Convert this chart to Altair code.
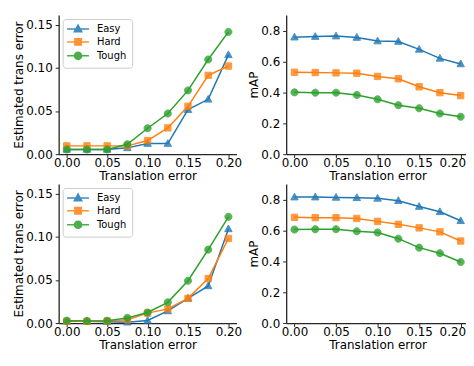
import altair as alt
import pandas as pd

x_vals = [0.0, 0.025, 0.05, 0.075, 0.1, 0.125, 0.15, 0.175, 0.2]
series_names = ["Easy", "Hard", "Tough"]
series_colors = ["#1f77b4", "#ff7f0e", "#2ca02c"]

top_est_easy = [0.0055, 0.0055, 0.0055, 0.0073, 0.0123, 0.0123, 0.0515, 0.0635, 0.115]
top_est_hard = [0.0096, 0.0096, 0.0096, 0.0096, 0.0158, 0.0304, 0.0554, 0.0912, 0.102]
top_est_tough = [0.0054, 0.0054, 0.0054, 0.0115, 0.030, 0.047, 0.0738, 0.1096, 0.1415]

top_map_easy = [0.757, 0.761, 0.764, 0.755, 0.732, 0.729, 0.678, 0.620, 0.584]
top_map_hard = [0.530, 0.528, 0.526, 0.524, 0.503, 0.488, 0.436, 0.398, 0.379]
top_map_tough = [0.400, 0.398, 0.398, 0.383, 0.355, 0.317, 0.297, 0.263, 0.242]

bot_est_easy = [0.002, 0.002, 0.0015, 0.001, 0.003, 0.014, 0.0286, 0.043, 0.109]
bot_est_hard = [0.002, 0.002, 0.0023, 0.0038, 0.0115, 0.0164, 0.0286, 0.0515, 0.098]
bot_est_tough = [0.0027, 0.0023, 0.0027, 0.006, 0.0122, 0.024, 0.049, 0.085, 0.123]

bot_map_easy = [0.815, 0.815, 0.813, 0.811, 0.807, 0.792, 0.754, 0.720, 0.662]
bot_map_hard = [0.684, 0.682, 0.682, 0.677, 0.658, 0.639, 0.616, 0.590, 0.531]
bot_map_tough = [0.605, 0.607, 0.607, 0.594, 0.586, 0.546, 0.488, 0.452, 0.395]

x_ticks = [0.0, 0.05, 0.1, 0.15, 0.2]
est_ticks = [0.0, 0.05, 0.1, 0.15]
map_ticks = [0.0, 0.2, 0.4, 0.6, 0.8]

# marker shapes (unit box) for plot points
marker_paths = [
    "M0,-1.05L1,0.75L-1,0.75Z",
    "M-0.85,-0.85L0.85,-0.85L0.85,0.85L-0.85,0.85Z",
    "M0.95,0A0.95,0.95,0,1,1,-0.95,0A0.95,0.95,0,1,1,0.95,0Z",
]
# legend symbols: line segment + marker
legend_paths = [
    "M-2.75,0L2.75,0M0,-0.98L0.935,0.7L-0.935,0.7Z",
    "M-2.75,0L2.75,0M-0.8,-0.8L0.8,-0.8L0.8,0.8L-0.8,0.8Z",
    "M-2.75,0L2.75,0M0.9,0A0.9,0.9,0,1,1,-0.9,0A0.9,0.9,0,1,1,0.9,0Z",
]

FONT = "DejaVu Sans"


def make_df(lists):
    rows = []
    for name, vals in zip(series_names, lists):
        for xv, yv in zip(x_vals, vals):
            rows.append({"x": xv, "value": yv, "series": name})
    return pd.DataFrame(rows)


def panel(lists, y_domain, y_ticks, y_fmt, y_title, width, with_legend, edge_panel):
    df = make_df(lists)
    x_axis_args = dict(values=x_ticks, format=".2f", title="Translation error")
    if edge_panel:
        # keep the last tick label inside the page
        x_axis_args["labelAlign"] = {"condition": {"test": "datum.value > 0.19", "value": "right"},
                                     "value": "center"}
        x_axis_args["labelOffset"] = {"condition": {"test": "datum.value > 0.19", "value": 5},
                                      "value": 0}
    X = alt.X("x:Q", scale=alt.Scale(domain=[-0.01, 0.21], nice=False, zero=False),
              axis=alt.Axis(**x_axis_args))
    Y = alt.Y("value:Q", scale=alt.Scale(domain=y_domain, nice=False, zero=False),
              axis=alt.Axis(values=y_ticks, format=y_fmt, title=y_title))
    layers = []
    for name, color, path in zip(series_names, series_colors, marker_paths):
        base = alt.Chart(df).transform_filter(alt.datum.series == name)
        layers.append(base.mark_line(color=color, strokeWidth=1.5).encode(x=X, y=Y))
        layers.append(base.mark_point(shape=path, filled=True, size=56, color=color,
                                      stroke=color, strokeWidth=1, opacity=0.8).encode(x=X, y=Y))
    if with_legend:
        leg = dict(orient="none", legendX=4, legendY=4, padding=5,
                   strokeColor="#cccccc", fillColor="rgba(255,255,255,0.8)", cornerRadius=3,
                   labelFont=FONT, labelFontSize=10, labelColor="#000000",
                   symbolSize=64, symbolStrokeWidth=1.5, symbolOpacity=0.85,
                   symbolOffset=5.5, labelOffset=14, rowPadding=0)
        layers.append(alt.Chart(df).mark_point(filled=True, opacity=0, size=64).encode(
            x=X, y=Y,
            fill=alt.Fill("series:N", title=None,
                          scale=alt.Scale(domain=series_names, range=series_colors),
                          legend=alt.Legend(**leg)),
            stroke=alt.Stroke("series:N", title=None,
                              scale=alt.Scale(domain=series_names, range=series_colors),
                              legend=alt.Legend(**leg)),
            shape=alt.Shape("series:N", title=None,
                            scale=alt.Scale(domain=series_names, range=legend_paths),
                            legend=alt.Legend(**leg)),
        ))
    return alt.layer(*layers).properties(width=width, height=140)


tl = panel([top_est_easy, top_est_hard, top_est_tough], [0, 0.161], est_ticks, ".2f",
           "Estimated trans error", 179, True, False)
tr = panel([top_map_easy, top_map_hard, top_map_tough], [0, 0.9], map_ticks, ".1f",
           "mAP", 184, False, True)
bl = panel([bot_est_easy, bot_est_hard, bot_est_tough], [0, 0.161], est_ticks, ".2f",
           "Estimated trans error", 179, True, False)
br = panel([bot_map_easy, bot_map_hard, bot_map_tough], [0, 0.9], map_ticks, ".1f",
           "mAP", 184, False, True)

chart = alt.concat(tl, tr, bl, br, columns=2, spacing={"row": 30, "column": 50},
                   bounds="flush").resolve_legend(
    fill="independent", stroke="independent", shape="independent"
).properties(
    padding={"left": 4, "top": 6, "right": -3, "bottom": 0}
).configure_view(stroke=None).configure_axis(
    grid=False, domainColor="#262626", domainWidth=1.3, tickColor="#262626",
    tickSize=3.5, tickWidth=1, labelFont=FONT, labelFontSize=12, labelColor="#000000",
    titleFont=FONT, titleFontSize=12, titleFontWeight="normal", titleColor="#000000"
).configure_axisX(labelPadding=0, titlePadding=2).configure_axisY(labelPadding=3, titlePadding=0)

chart.save("out.html", embed_options={"renderer": "svg", "actions": False})
